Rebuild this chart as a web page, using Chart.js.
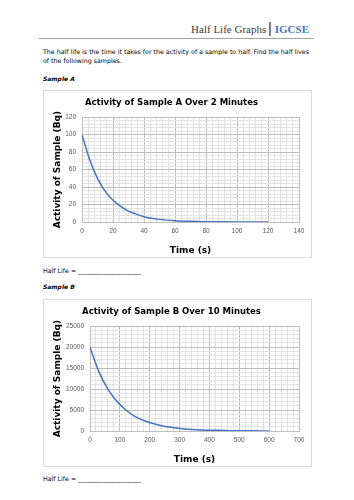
<!DOCTYPE html>
<html>
<head>
<meta charset="utf-8">
<script src="https://cdn.jsdelivr.net/npm/chart.js@4"></script>
<style>
  body { margin: 0; width: 354px; height: 500px; background: #fff; position: relative; overflow: hidden; font-family: "DejaVu Sans", sans-serif; color: #000; }
  .abs { position: absolute; white-space: nowrap; }
  .header { right: 45px; top: 22px; font-family: "Liberation Serif", serif; font-size: 11px; color: #404040; line-height: 14px; }
  .header .sep { display: inline-block; width: 1.5px; height: 14px; background: #808080; vertical-align: -3px; margin: 0 4px 0 3px; }
  .header b { color: #4472c4; }
  .rule { left: 39px; top: 38px; width: 275px; height: 1px; background: #a0a0a0; }
  .text { left: 43px; font-size: 6.3px; line-height: 9px; }
  .label { left: 43px; font-size: 6px; font-style: italic; font-weight: bold; }
  .box { left: 43px; width: 267px; height: 166px; border: 1px solid #d9d9d9; }
  .box canvas { position: absolute; left: 0; top: 0; }
</style>
</head>
<body>
<div class="abs header">Half Life Graphs<span class="sep"></span><b>IGCSE</b></div>
<div class="abs rule"></div>
<div class="abs text" style="top:47px">The half life is the time it takes for the activity of a sample to half. Find the half lives<br>of the following samples.</div>
<div class="abs label" style="top:75px">Sample A</div>
<div class="abs box" style="top:90px"><canvas id="chartA" width="267" height="166"></canvas></div>
<div class="abs text" style="top:266px">Half Life = ____________________</div>
<div class="abs label" style="top:283px">Sample B</div>
<div class="abs box" style="top:299px"><canvas id="chartB" width="267" height="166"></canvas></div>
<div class="abs text" style="top:474px">Half Life = ____________________</div>

<script>
// Sample A: activity (Bq), time in seconds
const timeA = [0, 5, 10, 15, 20, 25, 30, 35, 40, 50, 60, 70, 80, 90, 100, 110, 120];
const activityA = [100, 71, 50, 35, 25, 18, 12.5, 9, 6, 3, 1.5, 0.8, 0.4, 0.2, 0.1, 0.05, 0.02];

// Sample B
const timeB = [0, 30, 60, 90, 120, 150, 180, 240, 300, 360, 420, 480, 540, 600];
const activityB = [20000, 14100, 10000, 7100, 5000, 3500, 2500, 1250, 625, 310, 160, 80, 40, 20];

// axis ranges: [min, max, minor step, major step]
const xAxisA = [0, 140, 4, 20];
const yAxisA = [0, 120, 4, 20];
const xAxisB = [0, 700, 20, 100];
const yAxisB = [0, 25000, 1000, 5000];

const titleFont = { family: "DejaVu Sans", weight: 'bold', size: 9 };
const tickFont = { family: "Liberation Sans", size: 6.5 };

function axis(range, opts) {
    const major = range[3];
    return {
        type: 'linear',
        min: range[0],
        max: range[1],
        afterFit: opts.fit,
        title: {
            display: true,
            text: opts.title,
            color: '#000',
            font: titleFont,
            padding: { top: opts.titlePad, bottom: 0 }
        },
        border: { color: '#bfbfbf' },
        grid: {
            drawTicks: false,
            color: function (ctx) {
                return ctx.tick && ctx.tick.value % major === 0 ? '#bdbdbd' : '#e2e2e2';
            }
        },
        ticks: {
            stepSize: range[2],
            maxTicksLimit: 200,
            autoSkip: false,
            maxRotation: 0,
            padding: opts.tickPad,
            color: '#595959',
            font: tickFont,
            callback: function (value) {
                return value % major === 0 ? String(value) : '';
            }
        }
    };
}

function drawChart(id, title, xs, ys, xRange, yRange, yWidth) {
    const points = xs.map((x, i) => ({ x: x, y: ys[i] }));
    new Chart(document.getElementById(id), {
        type: 'line',
        data: {
            datasets: [{
                data: points,
                borderColor: '#4472c4',
                borderWidth: 1.5,
                pointRadius: 0,
                tension: 0.4,
                cubicInterpolationMode: 'monotone',
                fill: false
            }]
        },
        options: {
            responsive: false,
            animation: false,
            layout: { padding: { left: 0, right: 12, top: 0, bottom: 1 } },
            plugins: {
                legend: { display: false },
                tooltip: { enabled: false },
                title: {
                    display: true,
                    text: title,
                    color: '#000',
                    font: { family: "DejaVu Sans", weight: 'bold', size: 8.5 },
                    padding: { top: 7, bottom: 9 }
                }
            },
            scales: {
                x: axis(xRange, { title: 'Time (s)', titlePad: 4, tickPad: 5, fit: s => { s.height = 34; } }),
                y: axis(yRange, { title: 'Activity of Sample (Bq)', titlePad: 8, tickPad: 6, fit: s => { s.width = yWidth; } })
            }
        }
    });
}

drawChart('chartA', 'Activity of Sample A Over 2 Minutes', timeA, activityA, xAxisA, yAxisA, 38);
drawChart('chartB', 'Activity of Sample B Over 10 Minutes', timeB, activityB, xAxisB, yAxisB, 46);
</script>
</body>
</html>
